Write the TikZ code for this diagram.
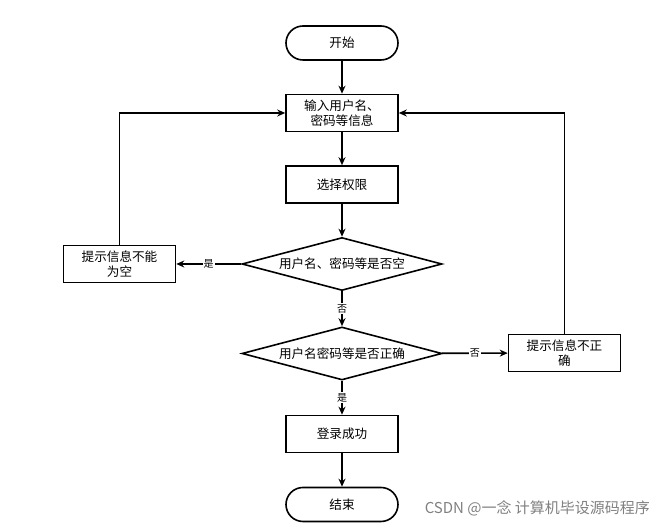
\documentclass[tikz,border=0pt]{standalone}
\usepackage{fontspec}
\setmainfont{Noto Sans CJK SC}
\usetikzlibrary{shapes.geometric,arrows.meta}
\begin{document}
\begin{tikzpicture}[x=0.5pt,y=-0.5pt,
  every node/.style={font=\fontsize{6.3}{7.6}\selectfont},
  box/.style={draw,thick,minimum width=56pt,minimum height=18.5pt,align=center,inner sep=1pt},
  term/.style={draw,thick,rounded corners=8.5pt,minimum width=56pt,minimum height=17pt},
  dia/.style={draw,thick,diamond,aspect=3.85,minimum width=100pt,minimum height=26.5pt,inner sep=0pt},
  arr/.style={thick,-{Stealth[length=4pt,width=3.5pt]}},
  lab/.style={fill=white,inner sep=0.5pt,font=\fontsize{5}{6}\selectfont}]
\useasboundingbox (0,0) rectangle (671,528);
\node[term] (start) at (342,43) {开始};
\node[box] (input) at (342,113) {输入用户名、\\密码等信息};
\node[box] (perm) at (342,184.5) {选择权限};
\node[dia] (d1) at (342,264) {用户名、密码等是否空};
\node[box] (empty) at (119.5,264) {提示信息不能\\为空};
\node[dia] (d2) at (342,353.5) {用户名密码等是否正确};
\node[box] (wrong) at (564.5,353) {提示信息不正\\确};
\node[box] (ok) at (342,434) {登录成功};
\node[term] (end) at (342,504.5) {结束};
\coordinate (lc) at (119.5,113);
\coordinate (rc) at (564.5,113);
\draw[arr] (start) -- (input);
\draw[arr] (input) -- (perm);
\draw[arr] (perm) -- (d1);
\draw[arr] (d1) -- node[lab]{是} (empty);
\draw[arr] (d1) -- node[lab]{否} (d2);
\draw[arr] (d2) -- node[lab]{否} (wrong);
\draw[arr] (d2) -- node[lab]{是} (ok);
\draw[arr] (ok) -- (end);
\draw[arr] (empty.north) -- (lc) -- (input.west);
\draw[arr] (wrong.north) -- (rc) -- (input.east);
\node[anchor=east,text=gray,font=\fontsize{7.5}{9}\selectfont] (wm) at (657,508) {CSDN @一念 计算机毕设源码程序};
\end{tikzpicture}
\end{document}
